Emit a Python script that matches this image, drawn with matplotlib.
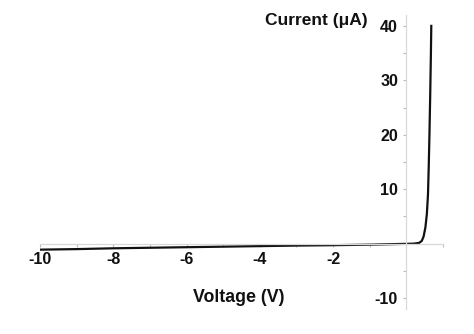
import matplotlib
matplotlib.use("Agg")
import matplotlib.pyplot as plt
from matplotlib.ticker import MultipleLocator

voltage = [-10, -9, -8, -7, -6, -5, -4, -3, -2, -1, -0.3, 0.2, 0.35, 0.42, 0.47, 0.52, 0.56, 0.59, 0.61, 0.63, 0.65, 0.67, 0.68]
current = [-1.1, -1.0, -0.85, -0.75, -0.65, -0.55, -0.45, -0.35, -0.28, -0.18, -0.08, 0.0, 0.15, 0.5, 1.3, 3.0, 5.5, 9.0, 14.0, 20.0, 27.0, 35.0, 40.0]

x_ticks = [-10, -8, -6, -4, -2]
y_ticks = [-10, 10, 20, 30, 40]

plt.rcParams['font.family'] = ['Liberation Sans', 'DejaVu Sans']
plt.rcParams['axes.unicode_minus'] = False
fig = plt.figure(figsize=(4.74, 3.34), dpi=100)
ax = fig.add_axes([40/474, 1 - 309/334, 403/474, 294/334])
ax.plot(voltage, current, color='#111111', lw=1.6)
ax.set_xlim(-10, 1.0)
ax.set_ylim(-12, 42)

for s in ['top', 'right']:
    ax.spines[s].set_visible(False)
ax.spines['left'].set_position(('data', 0))
ax.spines['bottom'].set_position(('data', 0))
for s in ['left', 'bottom']:
    ax.spines[s].set_color('#d8d8d8')
    ax.spines[s].set_linewidth(0.9)

ax.set_xticks(x_ticks)
ax.set_yticks(y_ticks)
ax.xaxis.set_minor_locator(MultipleLocator(1))
ax.yaxis.set_minor_locator(MultipleLocator(5))
ax.tick_params(which='both', colors='#bbbbbb', length=2, width=0.8, direction='out')
ax.tick_params(axis='both', which='major', labelcolor='#111111', labelsize=11.5, pad=4)
for lab in ax.get_xticklabels() + ax.get_yticklabels():
    lab.set_fontweight('bold')

fig.text(368/474, 1 - 20/334, 'Current (μA)', ha='right', va='center', fontsize=12.5, fontweight='bold', color='#111111')
fig.text(239/474, 1 - 297/334, 'Voltage (V)', ha='center', va='center', fontsize=12.8, fontweight='bold', color='#111111')

fig.savefig('out.png', dpi=100)
